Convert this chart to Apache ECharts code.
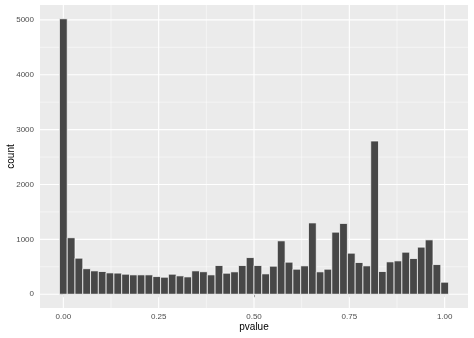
<!DOCTYPE html>
<html>
<head>
<meta charset="utf-8">
<script src="https://cdn.jsdelivr.net/npm/echarts@6/dist/echarts.min.js"></script>
<style>
html,body{margin:0;padding:0;background:#fff;}
#c{width:474px;height:338px;}
</style>
</head>
<body>
<div id="c"></div>
<script>
// bin centres (pvalue) and counts
var binCenters = [0, 0.0204, 0.0408, 0.0612, 0.0816, 0.1020, 0.1224, 0.1429, 0.1633, 0.1837,
  0.2041, 0.2245, 0.2449, 0.2653, 0.2857, 0.3061, 0.3265, 0.3469, 0.3673, 0.3878,
  0.4082, 0.4286, 0.4490, 0.4694, 0.4898, 0.5102, 0.5306, 0.5510, 0.5714, 0.5918,
  0.6122, 0.6327, 0.6531, 0.6735, 0.6939, 0.7143, 0.7347, 0.7551, 0.7755, 0.7959,
  0.8163, 0.8367, 0.8571, 0.8776, 0.8980, 0.9184, 0.9388, 0.9592, 0.9796, 1.0000];
var counts = [5020, 1030, 657, 465, 426, 414, 389, 385, 365, 353,
  353, 353, 322, 310, 365, 335, 316, 426, 410, 353,
  523, 383, 408, 523, 668, 523, 371, 511, 973, 584,
  456, 517, 1300, 408, 456, 1131, 1290, 748, 578, 517,
  2792, 414, 590, 608, 766, 651, 858, 991, 541, 219];
var binWidth = 1 / 49;

var xTicks = [0, 0.25, 0.5, 0.75, 1];
var xMinor = [0.125, 0.375, 0.625, 0.875];
var yTicks = [0, 1000, 2000, 3000, 4000, 5000];
var yMinor = [500, 1500, 2500, 3500, 4500];

var xMin = -0.0612, xMax = 1.0612;
var yMin = -251, yMax = 5271;

var chart = echarts.init(document.getElementById('c'), null, {renderer: 'canvas'});

function vLine(width) {
  return function (params, api) {
    var cs = params.coordSys;
    var p = api.coord([api.value(0), 0]);
    return {type: 'line', shape: {x1: p[0], y1: cs.y, x2: p[0], y2: cs.y + cs.height},
      style: {stroke: '#ffffff', lineWidth: width}, silent: true};
  };
}
function hLine(width) {
  return function (params, api) {
    var cs = params.coordSys;
    var p = api.coord([0, api.value(0)]);
    return {type: 'line', shape: {x1: cs.x, y1: p[1], x2: cs.x + cs.width, y2: p[1]},
      style: {stroke: '#ffffff', lineWidth: width}, silent: true};
  };
}

var histData = binCenters.map(function (c, i) { return [c, counts[i]]; });

chart.setOption({
  animation: false,
  backgroundColor: '#ffffff',
  textStyle: {fontFamily: 'Liberation Sans'},
  grid: {left: 40, right: 6, top: 5, bottom: 30, show: true, backgroundColor: '#EBEBEB', borderWidth: 0,
    containLabel: false, outerBoundsMode: 'none'},
  xAxis: {
    type: 'value', min: xMin, max: xMax,
    name: 'pvalue', nameLocation: 'middle', nameGap: 14, nameMoveOverlap: false,
    nameTextStyle: {fontSize: 10, color: '#000', fontFamily: 'Liberation Sans'},
    axisLine: {show: false},
    axisTick: {show: true, length: 3, lineStyle: {color: '#333333', width: 1}, customValues: xTicks},
    axisLabel: {fontSize: 8, color: '#4D4D4D', margin: 5, customValues: xTicks,
      formatter: function (v) { return v.toFixed(2); }},
    splitLine: {show: false}
  },
  yAxis: {
    type: 'value', min: yMin, max: yMax,
    name: 'count', nameLocation: 'middle', nameGap: 24, nameRotate: 90, nameMoveOverlap: false,
    nameTextStyle: {fontSize: 10, color: '#000', fontFamily: 'Liberation Sans'},
    axisLine: {show: false},
    axisTick: {show: true, length: 3, lineStyle: {color: '#333333', width: 1}, customValues: yTicks},
    axisLabel: {fontSize: 8, color: '#4D4D4D', margin: 6, customValues: yTicks,
      formatter: function (v) { return String(v); }},
    splitLine: {show: false}
  },
  series: [
    {type: 'custom', data: xMinor.map(function (v) { return [v]; }), renderItem: vLine(0.5), silent: true, z: 1, encode: {x: 0}},
    {type: 'custom', data: yMinor.map(function (v) { return [v]; }), renderItem: hLine(0.5), silent: true, z: 1, encode: {y: 0}},
    {type: 'custom', data: xTicks.map(function (v) { return [v]; }), renderItem: vLine(1.1), silent: true, z: 2, encode: {x: 0}},
    {type: 'custom', data: yTicks.map(function (v) { return [v]; }), renderItem: hLine(1.1), silent: true, z: 2, encode: {y: 0}},
    {
      type: 'custom', z: 3, data: histData, encode: {x: 0, y: 1},
      renderItem: function (params, api) {
        var c = api.value(0), n = api.value(1);
        var p0 = api.coord([c - binWidth / 2, n]);
        var p1 = api.coord([c + binWidth / 2, 0]);
        return {type: 'rect', shape: {x: p0[0], y: p0[1], width: p1[0] - p0[0], height: p1[1] - p0[1]},
          style: {fill: '#474747', stroke: '#ffffff', lineWidth: 0.7}};
      }
    }
  ]
});
</script>
</body>
</html>
